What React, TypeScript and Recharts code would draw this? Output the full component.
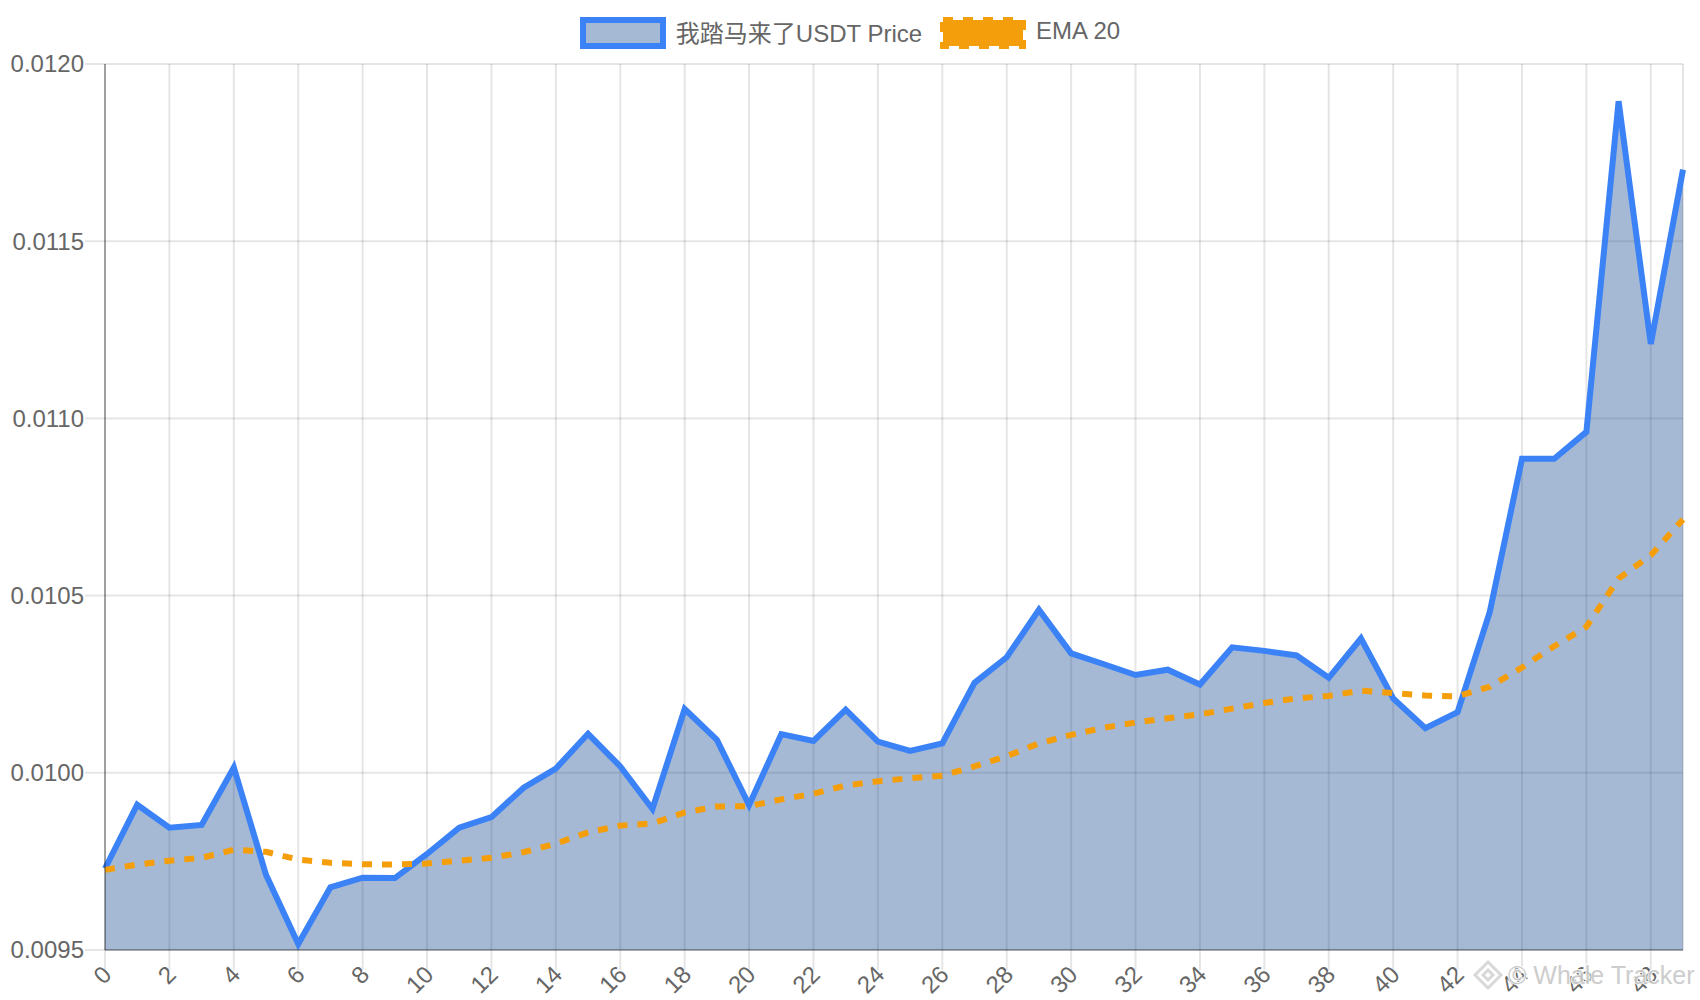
import React from 'react';
import { ComposedChart, Area, Line, XAxis, YAxis, CartesianGrid } from 'recharts';

const indices = [
  0, 1, 2, 3, 4, 5, 6, 7, 8, 9, 10, 11, 12, 13, 14, 15, 16, 17, 18, 19, 20, 21, 22, 23, 24,
  25, 26, 27, 28, 29, 30, 31, 32, 33, 34, 35, 36, 37, 38, 39, 40, 41, 42, 43, 44, 45, 46, 47, 48, 49,
];

const priceValues = [
  0.00973, 0.00991, 0.009845, 0.009853, 0.010015, 0.009712, 0.009517, 0.009677, 0.009704, 0.009703,
  0.009771, 0.009845, 0.009875, 0.009958, 0.010012, 0.01011, 0.010018, 0.009898, 0.01018, 0.010093,
  0.009909, 0.010109, 0.01009, 0.010178, 0.010088, 0.010062, 0.010083, 0.010254, 0.010326, 0.01046,
  0.010337, 0.010307, 0.010276, 0.010291, 0.010249, 0.010354, 0.010344, 0.010331, 0.010268, 0.010379,
  0.01021, 0.010126, 0.010171, 0.010454, 0.010886, 0.010886, 0.010962, 0.011895, 0.01121, 0.011702,
];

const emaValues = [
  0.009726, 0.009741, 0.009752, 0.00976, 0.009783, 0.009777, 0.009755, 0.009746, 0.009742, 0.009741,
  0.009744, 0.009752, 0.00976, 0.009776, 0.0098, 0.009832, 0.009851, 0.009857, 0.009888, 0.009905,
  0.009906, 0.009925, 0.009941, 0.009964, 0.009976, 0.009985, 0.009992, 0.010018, 0.010047, 0.010083,
  0.010107, 0.010127, 0.010142, 0.010154, 0.010165, 0.010181, 0.010197, 0.01021, 0.010217, 0.010232,
  0.010225, 0.010218, 0.010216, 0.010243, 0.010297, 0.010357, 0.010412, 0.010548, 0.010614, 0.010715,
];

const xTicks = [0, 2, 4, 6, 8, 10, 12, 14, 16, 18, 20, 22, 24, 26, 28, 30, 32, 34, 36, 38, 40, 42, 44, 46, 48];
const yTicks = [0.0095, 0.01, 0.0105, 0.011, 0.0115, 0.012];

const priceName = '我踏马来了USDT Price';
const emaName = 'EMA 20';
const watermarkText = '© Whale Tracker';

const data = indices.map((i, k) => ({ idx: i, price: priceValues[k], ema: emaValues[k] }));

const FONT = "'Liberation Sans', Arial, 'Noto Sans CJK SC', sans-serif";
const TEXT = '#666666';
const BLUE = '#3b82f6';
const ORANGE = '#f59e0b';
const FILL = 'rgb(33,80,148)';

function XTick(props: any) {
  const { x, y, payload } = props;
  return (
    <g transform={`translate(${x + 2},${y})`}>
      <text transform="rotate(-45)" textAnchor="end" dy="0.35em" fill={TEXT} fontSize={24} fontFamily={FONT}>
        {payload.value}
      </text>
    </g>
  );
}

function YTick(props: any) {
  const { x, y, payload } = props;
  return (
    <text x={x + 2} y={y} dy="0.35em" textAnchor="end" fill={TEXT} fontSize={24} fontFamily={FONT}>
      {Number(payload.value).toFixed(4)}
    </text>
  );
}

function LegendOverlay() {
  return (
    <div
      style={{
        position: 'absolute',
        left: 0,
        top: 0,
        width: 1700,
        height: 66,
        display: 'flex',
        justifyContent: 'center',
        alignItems: 'center',
        fontFamily: FONT,
        fontSize: 24,
        color: TEXT,
        pointerEvents: 'none',
      }}
    >
      <svg width={86} height={32} style={{ marginRight: 10 }}>
        <rect x={3} y={3} width={80} height={26} fill={FILL} fillOpacity={0.4} stroke={BLUE} strokeWidth={6} />
      </svg>
      <span style={{ marginRight: 18, position: 'relative', top: -2 }}>{priceName}</span>
      <svg width={86} height={32} style={{ marginRight: 10 }}>
        <rect x={3} y={3} width={80} height={26} fill={ORANGE} stroke={ORANGE} strokeWidth={6} strokeDasharray="10 10" />
      </svg>
      <span style={{ position: 'relative', top: -2 }}>{emaName}</span>
    </div>
  );
}

function Watermark() {
  return (
    <svg
      width={1700}
      height={1000}
      style={{ position: 'absolute', left: 0, top: 0, pointerEvents: 'none' }}
    >
      <g transform="translate(1488,975)" fill="none" stroke="#d4d4d4" strokeWidth={3} opacity={0.9}>
        <path d="M0,-13 L13,0 L0,13 L-13,0 Z" />
        <path d="M0,-5 L5,0 L0,5 L-5,0 Z" />
      </g>
      <text
        x={1508}
        y={975}
        dy="0.35em"
        fontSize={25}
        fontFamily={FONT}
        fill="#c8c8c8"
        stroke="#ffffff"
        strokeWidth={2}
        paintOrder="stroke"
        opacity={0.9}
      >
        {watermarkText}
      </text>
    </svg>
  );
}

export default function App() {
  return (
    <div style={{ position: 'absolute', left: 0, top: 0, width: 1700, height: 1000, background: '#fff' }}>
      <ComposedChart width={1700} height={1000} data={data} margin={{ top: 64, right: 17, left: 0, bottom: 0 }}>
        <CartesianGrid stroke="rgba(0,0,0,0.1)" strokeWidth={2} />
        <XAxis
          dataKey="idx"
          type="number"
          domain={[0, 49]}
          ticks={xTicks}
          interval={0}
          height={50}
          tickSize={20}
          tickMargin={0}
          tickLine={{ stroke: 'rgba(0,0,0,0.1)', strokeWidth: 2 }}
          axisLine={{ stroke: 'rgba(0,0,0,0.25)', strokeWidth: 2 }}
          tick={<XTick />}
        />
        <YAxis
          type="number"
          domain={[0.0095, 0.012]}
          ticks={yTicks}
          interval={0}
          width={105}
          tickSize={20}
          tickMargin={3}
          tickLine={{ stroke: 'rgba(0,0,0,0.1)', strokeWidth: 2 }}
          axisLine={{ stroke: 'rgba(0,0,0,0.3)', strokeWidth: 2 }}
          tick={<YTick />}
        />
        <Area
          dataKey="price"
          name={priceName}
          type="linear"
          stroke={BLUE}
          strokeWidth={6}
          fill={FILL}
          fillOpacity={0.4}
          dot={false}
          activeDot={false}
          isAnimationActive={false}
        />
        <Line
          dataKey="ema"
          name={emaName}
          type="linear"
          stroke={ORANGE}
          strokeWidth={6}
          strokeDasharray="10 10"
          dot={false}
          activeDot={false}
          isAnimationActive={false}
        />
      </ComposedChart>
      <LegendOverlay />
      <Watermark />
    </div>
  );
}
